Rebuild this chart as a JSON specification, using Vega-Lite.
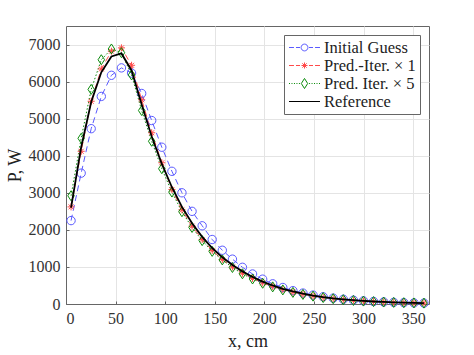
{
  "$schema": "https://vega.github.io/schema/vega-lite/v6.json",
  "autosize": "none",
  "width": 363,
  "height": 278,
  "padding": {"left": 66, "top": 26, "right": 45, "bottom": 51},
  "background": "white",
  "config": {
    "font": "Liberation Serif",
    "view": {"stroke": "#666666", "strokeWidth": 1},
    "axis": {
      "labelFont": "Liberation Serif", "labelFontSize": 16, "labelColor": "#333333",
      "titleFont": "Liberation Serif", "titleFontSize": 18, "titleFontWeight": "normal", "titleColor": "#222222",
      "gridColor": "#e4e4e4", "gridWidth": 1, "domainColor": "#666666",
      "tickColor": "#666666", "tickSize": -3, "labelPadding": 9, "format": "d"
    },
    "legend": {
      "orient": "top-right", "offset": 9, "title": null,
      "labelFont": "Liberation Serif", "labelFontSize": 16.5, "labelColor": "#222222",
      "strokeColor": "#666666", "fillColor": "white", "padding": 4, "rowPadding": 1,
      "symbolSize": 240, "symbolOffset": 8, "labelOffset": 11, "symbolStrokeWidth": 1
    }
  },
  "data": {"values": [
    {"x": 5.1, "P": 2250, "series": "Initial Guess"},
    {"x": 15.3, "P": 3530, "series": "Initial Guess"},
    {"x": 25.4, "P": 4730, "series": "Initial Guess"},
    {"x": 35.6, "P": 5600, "series": "Initial Guess"},
    {"x": 45.8, "P": 6170, "series": "Initial Guess"},
    {"x": 55.9, "P": 6370, "series": "Initial Guess"},
    {"x": 66.1, "P": 6230, "series": "Initial Guess"},
    {"x": 76.3, "P": 5680, "series": "Initial Guess"},
    {"x": 86.4, "P": 4950, "series": "Initial Guess"},
    {"x": 96.6, "P": 4230, "series": "Initial Guess"},
    {"x": 106.8, "P": 3580, "series": "Initial Guess"},
    {"x": 116.9, "P": 3000, "series": "Initial Guess"},
    {"x": 127.1, "P": 2500, "series": "Initial Guess"},
    {"x": 137.3, "P": 2110, "series": "Initial Guess"},
    {"x": 147.4, "P": 1740, "series": "Initial Guess"},
    {"x": 157.6, "P": 1450, "series": "Initial Guess"},
    {"x": 167.8, "P": 1210, "series": "Initial Guess"},
    {"x": 177.9, "P": 990, "series": "Initial Guess"},
    {"x": 188.1, "P": 810, "series": "Initial Guess"},
    {"x": 198.3, "P": 670, "series": "Initial Guess"},
    {"x": 208.4, "P": 545, "series": "Initial Guess"},
    {"x": 218.6, "P": 445, "series": "Initial Guess"},
    {"x": 228.8, "P": 360, "series": "Initial Guess"},
    {"x": 238.9, "P": 295, "series": "Initial Guess"},
    {"x": 249.1, "P": 240, "series": "Initial Guess"},
    {"x": 259.3, "P": 195, "series": "Initial Guess"},
    {"x": 269.4, "P": 158, "series": "Initial Guess"},
    {"x": 279.6, "P": 128, "series": "Initial Guess"},
    {"x": 289.8, "P": 104, "series": "Initial Guess"},
    {"x": 299.9, "P": 85, "series": "Initial Guess"},
    {"x": 310.1, "P": 69, "series": "Initial Guess"},
    {"x": 320.3, "P": 56, "series": "Initial Guess"},
    {"x": 330.4, "P": 45, "series": "Initial Guess"},
    {"x": 340.6, "P": 37, "series": "Initial Guess"},
    {"x": 350.8, "P": 30, "series": "Initial Guess"},
    {"x": 360.9, "P": 24, "series": "Initial Guess"},

    {"x": 5.1, "P": 2620, "series": "Pred.-Iter. × 1"},
    {"x": 15.3, "P": 4120, "series": "Pred.-Iter. × 1"},
    {"x": 25.4, "P": 5470, "series": "Pred.-Iter. × 1"},
    {"x": 35.6, "P": 6340, "series": "Pred.-Iter. × 1"},
    {"x": 45.8, "P": 6820, "series": "Pred.-Iter. × 1"},
    {"x": 55.9, "P": 6910, "series": "Pred.-Iter. × 1"},
    {"x": 66.1, "P": 6440, "series": "Pred.-Iter. × 1"},
    {"x": 76.3, "P": 5510, "series": "Pred.-Iter. × 1"},
    {"x": 86.4, "P": 4620, "series": "Pred.-Iter. × 1"},
    {"x": 96.6, "P": 3810, "series": "Pred.-Iter. × 1"},
    {"x": 106.8, "P": 3090, "series": "Pred.-Iter. × 1"},
    {"x": 116.9, "P": 2540, "series": "Pred.-Iter. × 1"},
    {"x": 127.1, "P": 2100, "series": "Pred.-Iter. × 1"},
    {"x": 137.3, "P": 1740, "series": "Pred.-Iter. × 1"},
    {"x": 147.4, "P": 1445, "series": "Pred.-Iter. × 1"},
    {"x": 157.6, "P": 1200, "series": "Pred.-Iter. × 1"},
    {"x": 167.8, "P": 1000, "series": "Pred.-Iter. × 1"},
    {"x": 177.9, "P": 830, "series": "Pred.-Iter. × 1"},
    {"x": 188.1, "P": 690, "series": "Pred.-Iter. × 1"},
    {"x": 198.3, "P": 570, "series": "Pred.-Iter. × 1"},
    {"x": 208.4, "P": 470, "series": "Pred.-Iter. × 1"},
    {"x": 218.6, "P": 390, "series": "Pred.-Iter. × 1"},
    {"x": 228.8, "P": 320, "series": "Pred.-Iter. × 1"},
    {"x": 238.9, "P": 262, "series": "Pred.-Iter. × 1"},
    {"x": 249.1, "P": 215, "series": "Pred.-Iter. × 1"},
    {"x": 259.3, "P": 176, "series": "Pred.-Iter. × 1"},
    {"x": 269.4, "P": 144, "series": "Pred.-Iter. × 1"},
    {"x": 279.6, "P": 118, "series": "Pred.-Iter. × 1"},
    {"x": 289.8, "P": 97, "series": "Pred.-Iter. × 1"},
    {"x": 299.9, "P": 80, "series": "Pred.-Iter. × 1"},
    {"x": 310.1, "P": 65, "series": "Pred.-Iter. × 1"},
    {"x": 320.3, "P": 53, "series": "Pred.-Iter. × 1"},
    {"x": 330.4, "P": 44, "series": "Pred.-Iter. × 1"},
    {"x": 340.6, "P": 36, "series": "Pred.-Iter. × 1"},
    {"x": 350.8, "P": 30, "series": "Pred.-Iter. × 1"},
    {"x": 360.9, "P": 25, "series": "Pred.-Iter. × 1"},

    {"x": 5.1, "P": 2920, "series": "Pred. Iter. × 5"},
    {"x": 15.3, "P": 4470, "series": "Pred. Iter. × 5"},
    {"x": 25.4, "P": 5790, "series": "Pred. Iter. × 5"},
    {"x": 35.6, "P": 6590, "series": "Pred. Iter. × 5"},
    {"x": 45.8, "P": 6880, "series": "Pred. Iter. × 5"},
    {"x": 55.9, "P": 6780, "series": "Pred. Iter. × 5"},
    {"x": 66.1, "P": 6180, "series": "Pred. Iter. × 5"},
    {"x": 76.3, "P": 5220, "series": "Pred. Iter. × 5"},
    {"x": 86.4, "P": 4390, "series": "Pred. Iter. × 5"},
    {"x": 96.6, "P": 3650, "series": "Pred. Iter. × 5"},
    {"x": 106.8, "P": 3020, "series": "Pred. Iter. × 5"},
    {"x": 116.9, "P": 2490, "series": "Pred. Iter. × 5"},
    {"x": 127.1, "P": 2065, "series": "Pred. Iter. × 5"},
    {"x": 137.3, "P": 1710, "series": "Pred. Iter. × 5"},
    {"x": 147.4, "P": 1420, "series": "Pred. Iter. × 5"},
    {"x": 157.6, "P": 1190, "series": "Pred. Iter. × 5"},
    {"x": 167.8, "P": 985, "series": "Pred. Iter. × 5"},
    {"x": 177.9, "P": 815, "series": "Pred. Iter. × 5"},
    {"x": 188.1, "P": 675, "series": "Pred. Iter. × 5"},
    {"x": 198.3, "P": 560, "series": "Pred. Iter. × 5"},
    {"x": 208.4, "P": 462, "series": "Pred. Iter. × 5"},
    {"x": 218.6, "P": 380, "series": "Pred. Iter. × 5"},
    {"x": 228.8, "P": 313, "series": "Pred. Iter. × 5"},
    {"x": 238.9, "P": 258, "series": "Pred. Iter. × 5"},
    {"x": 249.1, "P": 212, "series": "Pred. Iter. × 5"},
    {"x": 259.3, "P": 174, "series": "Pred. Iter. × 5"},
    {"x": 269.4, "P": 143, "series": "Pred. Iter. × 5"},
    {"x": 279.6, "P": 117, "series": "Pred. Iter. × 5"},
    {"x": 289.8, "P": 96, "series": "Pred. Iter. × 5"},
    {"x": 299.9, "P": 79, "series": "Pred. Iter. × 5"},
    {"x": 310.1, "P": 65, "series": "Pred. Iter. × 5"},
    {"x": 320.3, "P": 53, "series": "Pred. Iter. × 5"},
    {"x": 330.4, "P": 43, "series": "Pred. Iter. × 5"},
    {"x": 340.6, "P": 35, "series": "Pred. Iter. × 5"},
    {"x": 350.8, "P": 29, "series": "Pred. Iter. × 5"},
    {"x": 360.9, "P": 24, "series": "Pred. Iter. × 5"},

    {"x": 5.1, "P": 2600, "series": "Reference"},
    {"x": 15.3, "P": 4230, "series": "Reference"},
    {"x": 25.4, "P": 5450, "series": "Reference"},
    {"x": 35.6, "P": 6250, "series": "Reference"},
    {"x": 45.8, "P": 6680, "series": "Reference"},
    {"x": 55.9, "P": 6760, "series": "Reference"},
    {"x": 66.1, "P": 6300, "series": "Reference"},
    {"x": 76.3, "P": 5380, "series": "Reference"},
    {"x": 86.4, "P": 4520, "series": "Reference"},
    {"x": 96.6, "P": 3780, "series": "Reference"},
    {"x": 106.8, "P": 3150, "series": "Reference"},
    {"x": 116.9, "P": 2620, "series": "Reference"},
    {"x": 127.1, "P": 2180, "series": "Reference"},
    {"x": 137.3, "P": 1810, "series": "Reference"},
    {"x": 147.4, "P": 1510, "series": "Reference"},
    {"x": 157.6, "P": 1260, "series": "Reference"},
    {"x": 167.8, "P": 1050, "series": "Reference"},
    {"x": 177.9, "P": 880, "series": "Reference"},
    {"x": 188.1, "P": 730, "series": "Reference"},
    {"x": 198.3, "P": 605, "series": "Reference"},
    {"x": 208.4, "P": 500, "series": "Reference"},
    {"x": 218.6, "P": 410, "series": "Reference"},
    {"x": 228.8, "P": 338, "series": "Reference"},
    {"x": 238.9, "P": 278, "series": "Reference"},
    {"x": 249.1, "P": 228, "series": "Reference"},
    {"x": 259.3, "P": 187, "series": "Reference"},
    {"x": 269.4, "P": 153, "series": "Reference"},
    {"x": 279.6, "P": 125, "series": "Reference"},
    {"x": 289.8, "P": 102, "series": "Reference"},
    {"x": 299.9, "P": 84, "series": "Reference"},
    {"x": 310.1, "P": 68, "series": "Reference"},
    {"x": 320.3, "P": 56, "series": "Reference"},
    {"x": 330.4, "P": 46, "series": "Reference"},
    {"x": 340.6, "P": 37, "series": "Reference"},
    {"x": 350.8, "P": 30, "series": "Reference"},
    {"x": 360.9, "P": 25, "series": "Reference"}
  ]},
  "encoding": {
    "x": {"field": "x", "type": "quantitative", "title": "x, cm",
          "scale": {"domain": [0, 366], "nice": false, "zero": false},
          "axis": {"values": [0, 50, 100, 150, 200, 250, 300, 350], "titlePadding": 6}},
    "y": {"field": "P", "type": "quantitative", "title": "P, W",
          "scale": {"domain": [0, 7500], "nice": false},
          "axis": {"values": [0, 1000, 2000, 3000, 4000, 5000, 6000, 7000], "titlePadding": 4}},
    "color": {"field": "series", "type": "nominal", "title": null,
      "legend": {"title": null},
      "scale": {"domain": ["Initial Guess", "Pred.-Iter. × 1", "Pred. Iter. × 5", "Reference"],
                "range": ["#5a5aff", "#ff4a4a", "#0a8a0a", "#000000"]}}
  },
  "layer": [
    {
      "transform": [{"filter": "datum.series === 'Initial Guess'"}],
      "mark": {"type": "line", "strokeWidth": 1, "strokeDash": [6, 4]},
      "encoding": {}
    },
    {
      "transform": [{"filter": "datum.series === 'Pred.-Iter. × 1'"}],
      "mark": {"type": "line", "strokeWidth": 1, "strokeDash": [6, 4]},
      "encoding": {}
    },
    {
      "transform": [{"filter": "datum.series === 'Pred. Iter. × 5'"}],
      "mark": {"type": "line", "strokeWidth": 1, "strokeDash": [1.5, 2]},
      "encoding": {}
    },
    {
      "transform": [{"filter": "datum.series === 'Initial Guess'"}],
      "mark": {"type": "point", "filled": false, "strokeWidth": 1, "shape": "circle", "size": 70, "opacity": 1},
      "encoding": {}
    },
    {
      "transform": [{"filter": "datum.series === 'Pred.-Iter. × 1'"}],
      "mark": {"type": "point", "filled": false, "strokeWidth": 1, "shape": "M-1,0H1M0,-1V1M-0.7,-0.7L0.7,0.7M-0.7,0.7L0.7,-0.7", "size": 50, "opacity": 1},
      "encoding": {}
    },
    {
      "transform": [{"filter": "datum.series === 'Pred. Iter. × 5'"}],
      "mark": {"type": "point", "filled": false, "strokeWidth": 1, "shape": "M0,-1L0.65,0L0,1L-0.65,0Z", "size": 100, "opacity": 1},
      "encoding": {}
    },
    {
      "transform": [{"filter": "datum.x > 360"}],
      "mark": {"type": "point", "filled": false, "opacity": 1, "clip": true},
      "encoding": {
        "y": {"datum": -2000},
        "shape": {"field": "series", "type": "nominal", "title": null,
          "legend": {"title": null},
          "scale": {"domain": ["Initial Guess", "Pred.-Iter. × 1", "Pred. Iter. × 5", "Reference"],
                    "range": [
                      "M-2,0H-1.36M-1.1,0H-0.58M0.58,0H1.1M1.36,0H2M0.44,0A0.44,0.44 0 1 1 -0.44,0A0.44,0.44 0 1 1 0.44,0",
                      "M-2,0H-1.36M-1.1,0H-0.58M0.58,0H1.1M1.36,0H2M-0.39,0H0.39M0,-0.39V0.39M-0.28,-0.28L0.28,0.28M-0.28,0.28L0.28,-0.28",
                      "M-2,0H-1.87M-1.68,0H-1.55M-1.36,0H-1.23M-1.04,0H-0.91M-0.72,0H-0.59M0.59,0H0.72M0.91,0H1.04M1.23,0H1.36M1.55,0H1.68M1.87,0H2M0,-0.65L0.41,0L0,0.65L-0.41,0Z",
                      "M-2,0H2"
                    ]}}
      }
    },
    {
      "transform": [{"filter": "datum.series === 'Reference'"}],
      "mark": {"type": "line", "strokeWidth": 1.8},
      "encoding": {}
    }
  ]
}
